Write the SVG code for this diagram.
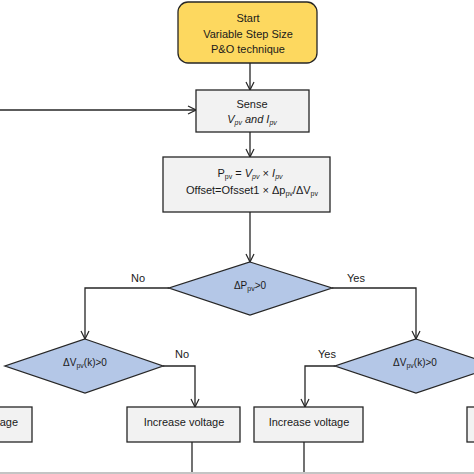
<svg xmlns="http://www.w3.org/2000/svg" width="474" height="474" viewBox="0 0 474 474">
<style>
text{font-family:"Liberation Sans",Arial,sans-serif;font-size:11px;fill:#1a1a1a;text-anchor:middle}
.box{fill:#f2f2f2;stroke:#262626;stroke-width:1.3}
.dec{fill:#b4c7e7;stroke:#262626;stroke-width:1.3}
.start{fill:#fdd85f;stroke:#262626;stroke-width:1.3}
.ln{fill:none;stroke:#262626;stroke-width:1.3}
.sub{font-size:7px}
.it{font-style:italic}
.dt{font-size:10px}
</style>
<defs>
<marker id="arr" markerUnits="userSpaceOnUse" markerWidth="10" markerHeight="10" viewBox="0 0 10 10" refX="9.5" refY="5" orient="auto">
<path d="M1.5,1 L9.5,5 L1.5,9" fill="none" stroke="#262626" stroke-width="1.2"/>
</marker>
</defs>
<rect width="474" height="474" fill="#ffffff"/>
<g id="connectors">
<line class="ln" x1="250" y1="63" x2="250" y2="90" marker-end="url(#arr)"/>
<line class="ln" x1="0" y1="110" x2="196" y2="110" marker-end="url(#arr)"/>
<line class="ln" x1="250" y1="132" x2="250" y2="157" marker-end="url(#arr)"/>
<line class="ln" x1="250" y1="212" x2="250" y2="262" marker-end="url(#arr)"/>
<polyline class="ln" points="169,288 85,288 85,339" marker-end="url(#arr)"/>
<polyline class="ln" points="332,288 416,288 416,339" marker-end="url(#arr)"/>
<polyline class="ln" points="163,366 195,366 195,407" marker-end="url(#arr)"/>
<polyline class="ln" points="335,366 305,366 305,407" marker-end="url(#arr)"/>
<line class="ln" x1="192" y1="442" x2="192" y2="472"/>
<line class="ln" x1="304" y1="442" x2="304" y2="472"/>
<text x="138" y="282">No</text>
<text x="356" y="282">Yes</text>
<text x="182" y="358">No</text>
<text x="327" y="358">Yes</text>
</g>
<g id="start">
<rect class="start" x="178" y="2" width="139" height="61" rx="10"/>
<text x="248" y="22">Start</text>
<text x="248" y="38">Variable Step Size</text>
<text x="248" y="53">P&amp;O technique</text>
</g>
<g id="sense">
<rect class="box" x="196" y="90" width="113" height="42"/>
<text x="252" y="108">Sense</text>
<text x="252" y="123" class="it">V<tspan class="sub" dy="2">pv</tspan><tspan dy="-2"> and  I</tspan><tspan class="sub" dy="2">pv</tspan></text>
</g>
<g id="calc">
<rect class="box" x="163" y="157" width="167" height="55"/>
<text x="250" y="177">P<tspan class="sub" dy="2">pv</tspan><tspan dy="-2"> = </tspan><tspan class="it">V</tspan><tspan class="sub it" dy="2">pv</tspan><tspan dy="-2"> × </tspan><tspan class="it">I</tspan><tspan class="sub it" dy="2">pv</tspan></text>
<text x="252" y="194">Offset=Ofsset1 × Δp<tspan class="sub" dy="2">pv</tspan><tspan dy="-2">/ΔV</tspan><tspan class="sub" dy="2">pv</tspan></text>
</g>
<g id="dP">
<polygon class="dec" points="250,262 332,288 250,315 169,288"/>
<text class="dt" x="250" y="289">ΔP<tspan class="sub" dy="2">pv</tspan><tspan dy="-2">&gt;0</tspan></text>
</g>
<g id="dV1">
<polygon class="dec" points="85,339 163,366 85,393 5,366"/>
<text class="dt" x="85" y="366">ΔV<tspan class="sub" dy="2">pv</tspan><tspan dy="-2">(k)&gt;0</tspan></text>
</g>
<g id="dV2">
<polygon class="dec" points="416,339 497,366 416,393 335,366"/>
<text class="dt" x="415" y="366">ΔV<tspan class="sub" dy="2">pv</tspan><tspan dy="-2">(k)&gt;0</tspan></text>
</g>
<g id="dec1">
<rect class="box" x="-80" y="407" width="112" height="35"/>
<text x="18" y="426" style="text-anchor:end">age</text>
</g>
<g id="inc1">
<rect class="box" x="127" y="407" width="113" height="35"/>
<text x="184" y="426">Increase voltage</text>
</g>
<g id="inc2">
<rect class="box" x="254" y="407" width="109" height="35"/>
<text x="309" y="426">Increase voltage</text>
</g>
<g id="dec2">
<rect class="box" x="467" y="407" width="112" height="35"/>
</g>
<rect x="0" y="472" width="474" height="2" fill="#c4c4c4"/>
</svg>
